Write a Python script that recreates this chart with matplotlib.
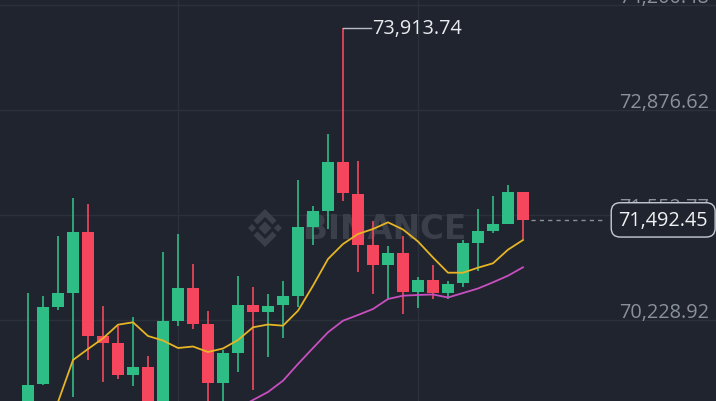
import numpy as np
import matplotlib.pyplot as plt
from matplotlib.patches import Polygon

plt.rcParams['font.family'] = ['Open Sans', 'DejaVu Sans']

# velas visibles (de izquierda a derecha)
opens = [69100.0, 69425.3, 70395.2, 70571.6, 71339.9, 70033.7, 69938.0, 69542.5, 69635.7, 69150.0,
         70215.1, 70634.6, 70181.1, 69437.9, 69815.8, 70416.6, 70328.5, 70424.2, 70537.6, 71399.1,
         71608.2, 72225.4, 71818.6, 71179.9, 70924.3, 71075.4, 70587.9, 70735.3, 70567.8, 70693.8,
         71201.4, 71348.8, 71444.5, 71840.0]
highs = [70571.6, 70537.6, 71293.3, 71768.2, 71692.6, 70411.6, 70159.7, 70269.3, 69778.0, 71084.2,
         71314.7, 70936.9, 70341.1, 69853.6, 70789.5, 70650.9, 70559.0, 70726.5, 71994.9, 71663.6,
         72574.3, 73913.74, 72238.0, 71482.3, 71167.4, 71293.3, 70769.3, 70928.0, 70726.5, 71242.9,
         71629.6, 71797.2, 71935.7, 71840.0]
lows = [69000.0, 69412.7, 70357.4, 69261.6, 69727.6, 69450.5, 69488.3, 69403.9, 69050.0, 69080.0,
        70152.1, 70118.1, 69100.0, 69150.0, 69572.7, 69349.8, 69761.7, 70004.8, 70391.4, 71179.9,
        71377.7, 71734.2, 70832.3, 70559.0, 70496.0, 70307.1, 70378.8, 70496.0, 70496.0, 70643.4,
        70852.5, 71323.6, 71444.5, 71251.8]
closes = [69412.7, 70395.2, 70571.6, 71339.9, 70033.7, 69938.0, 69542.5, 69635.7, 69150.0, 70215.1,
          70634.6, 70181.1, 69437.9, 69815.8, 70416.6, 70328.5, 70414.0, 70530.0, 71399.1, 71600.7,
          72217.9, 71827.4, 71179.9, 70928.0, 71075.4, 70587.9, 70735.3, 70567.8, 70684.9, 71201.4,
          71356.3, 71440.7, 71840.0, 71492.45]

# medias moviles (empiezan en la vela 1 y en la vela 12)
ma7 = [68669.6, 69198.6, 69727.6, 69866.2, 70001.0, 70172.3, 70202.5, 70029.9, 69973.3, 69878.8,
       69897.7, 69828.4, 69872.5, 69979.6, 70139.5, 70174.8, 70159.7, 70348.6, 70663.5, 70999.8,
       71188.8, 71314.7, 71377.7, 71462.1, 71371.4, 71220.3, 71018.7, 70827.3, 70827.3, 70890.3,
       70945.7, 71117.0, 71239.2]
ma25 = [68950.0, 69034.8, 69123.0, 69223.8, 69324.6, 69466.9, 69677.3, 69878.8, 70076.6, 70222.7,
        70294.5, 70370.0, 70496.0, 70537.6, 70546.4, 70552.7, 70514.9, 70571.6, 70628.3, 70706.3,
        70789.5, 70895.3]
ma7_start = 1
ma25_start = 12

price_levels = [70228.92, 71552.77, 72876.62, 74200.48]
price_labels = ["70,228.92", "71,552.77", "72,876.62", "74,200.48"]
last_price = 71492.45
high_price = 73913.74

bg = "#1f242e"
grid_c = "#2b313b"
green = "#2ebd85"
red = "#f6465d"
yellow = "#e6b425"
magenta = "#c84fbf"
label_c = "#8a919c"
wm_c = "#3a3f49"

fig = plt.figure(figsize=(7.16, 4.02), dpi=100)
fig.patch.set_facecolor(bg)
ax = fig.add_axes([0, 0, 1, 1])
ax.set_facecolor(bg)

x = np.arange(len(opens))
o = np.array(opens)
c = np.array(closes)
up = c >= o
cols = np.where(up, green, red)

ax.set_xlim(-28 / 15, (716 - 28) / 15)
ax.set_ylim(69211.2, 74274.8)

# rejilla
ax.set_yticks(price_levels)
ax.set_xticks([10, 26])
ax.grid(True, color=grid_c, lw=1)
ax.set_axisbelow(True)
ax.tick_params(length=0, labelleft=False, labelbottom=False)
for s in ax.spines.values():
    s.set_visible(False)

# marca de agua
ax.text(303 / 716, (402 - 230) / 402, "BINANCE", transform=ax.transAxes, fontsize=23.5,
        fontweight="bold", family="DejaVu Sans", color=wm_c, ha="left", va="center", zorder=1)
cx, cy = 265, 402 - 229
shapes = [
    [(0, 6.5), (6.5, 0), (0, -6.5), (-6.5, 0)],
    [(-13, 4), (-9, 0), (-13, -4), (-17, 0)],
    [(13, 4), (17, 0), (13, -4), (9, 0)],
    [(-11.5, 7.5), (0, 19), (11.5, 7.5), (7.5, 3.5), (0, 11), (-7.5, 3.5)],
    [(-11.5, -7.5), (0, -19), (11.5, -7.5), (7.5, -3.5), (0, -11), (-7.5, -3.5)],
]
for sh in shapes:
    pts = [((cx + px) / 716, (cy + py) / 402) for px, py in sh]
    ax.add_patch(Polygon(pts, closed=True, transform=ax.transAxes, color=wm_c, lw=0, zorder=1))

# velas
ax.vlines(x, lows, highs, colors=cols, lw=1.2, zorder=3)
body_h = np.maximum(np.abs(c - o), 12)
ax.bar(x, body_h, 0.86, bottom=np.minimum(o, c), color=cols, lw=0, zorder=4)

# medias
ax.plot(x[ma7_start:], ma7, color=yellow, lw=1.3, zorder=5)
ax.plot(x[ma25_start:], ma25, color=magenta, lw=1.3, zorder=5)

# etiquetas de precio a la derecha
for lvl, lab in zip(price_levels, price_labels):
    ax.annotate(lab, xy=(1, lvl), xycoords=("axes fraction", "data"), xytext=(-7, 3),
                textcoords="offset pixels", ha="right", va="baseline", fontsize=14.3,
                color=label_c, zorder=6)

# maximo
i_high = int(np.argmax(highs))
ax.plot([x[i_high], x[i_high] + 1.9], [high_price, high_price], color="#b7bdc6", lw=1, zorder=6)
ax.text(x[i_high] + 1.95, high_price, f"{high_price:,.2f}", ha="left", va="center",
        fontsize=14.3, color="#eaecef", zorder=6)

# ultimo precio
ax.hlines(last_price, x[-1] + 0.5, x[-1] + 5.5, colors=label_c, lw=1, linestyles=(0, (3, 3)), zorder=6)
ax.annotate(f"{last_price:,.2f}", xy=(1, last_price), xycoords=("axes fraction", "data"),
            xytext=(-8, 0), textcoords="offset pixels", ha="right", va="center", fontsize=14.3,
            color="#f0f1f3", zorder=7,
            bbox=dict(boxstyle="round,pad=0.36,rounding_size=0.45", fc=bg, ec="#c8ccd2", lw=1))

fig.savefig("out.png", dpi=100, facecolor=bg)
